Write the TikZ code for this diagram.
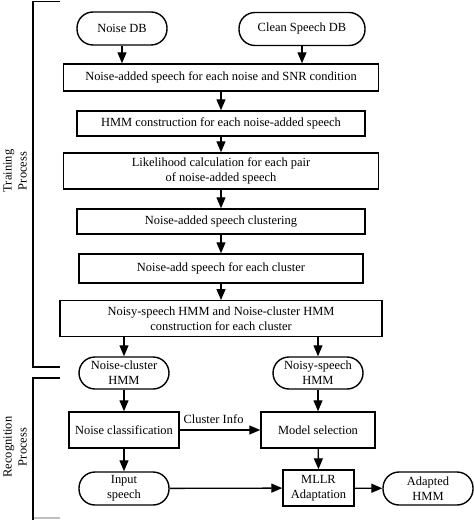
\documentclass[tikz,border=0pt]{standalone}
\usepackage{fontspec}
\setmainfont{Liberation Serif}
\usetikzlibrary{arrows.meta,positioning}
\begin{document}
\begin{tikzpicture}[x=1bp,y=-1bp,
  every node/.style={font=\fontsize{12.5}{15}\selectfont},
  box/.style={draw, line width=1.4bp, inner sep=0pt, align=center},
  term/.style={box, rounded corners=16bp, minimum width=90bp, minimum height=33bp},
  arr/.style={-{Triangle[length=11bp,width=9bp]}, line width=1.3bp},
  brk/.style={line width=1.5bp}]
\useasboundingbox (0,0) rectangle (474,520);
% nodes
\node[term] (ndb) at (122,28.5) {Noise DB};
\node[term, minimum width=126bp] (cdb) at (302,29) {Clean Speech DB};
\node[box, minimum width=315bp, minimum height=27bp] (b1) at (221,77.5) {Noise-added speech for each noise and SNR condition};
\node[box, minimum width=288bp, minimum height=25bp] (b2) at (221,123.5) {HMM construction for each noise-added speech};
\node[box, minimum width=315bp, minimum height=36bp] (b3) at (221,171) {Likelihood calculation for each pair\\of noise-added speech};
\node[box, minimum width=288bp, minimum height=25bp] (b4) at (221,221.5) {Noise-added speech clustering};
\node[box, minimum width=284bp, minimum height=29bp] (b5) at (221,268.5) {Noise-add speech for each cluster};
\node[box, minimum width=322bp, minimum height=36bp] (b6) at (221,318.7) {Noisy-speech HMM and Noise-cluster HMM\\construction for each cluster};
\node[term, minimum height=32bp] (nc) at (124,373) {Noise-cluster\\HMM};
\node[term, minimum height=32bp] (ns) at (318,373) {Noisy-speech\\HMM};
\node[box, minimum width=110bp, minimum height=36bp] (ncl) at (124,430) {Noise classification};
\node[box, minimum width=114bp, minimum height=36bp] (ms) at (318,430) {Model selection};
\node[term] (is) at (124,488.5) {Input\\speech};
\node[box, minimum width=71bp, minimum height=36bp] (ml) at (318.5,488) {MLLR\\Adaptation};
\node[term] (ah) at (428,488.5) {Adapted\\HMM};
% connectors
\draw[arr] (ndb) -- (ndb |- b1.north);
\draw[arr] (cdb) -- (cdb |- b1.north);
\draw[arr] (b1) -- (b2);
\draw[arr] (b2) -- (b3);
\draw[arr] (b3) -- (b4);
\draw[arr] (b4) -- (b5);
\draw[arr] (b5) -- (b6);
\draw[arr] (nc |- b6.south) -- (nc);
\draw[arr] (ns |- b6.south) -- (ns);
\draw[arr] (nc) -- (ncl);
\draw[arr] (ns) -- (ms);
\draw[arr] (ncl) -- node[above=2bp, pos=0.42] (ci) {Cluster Info} (ms);
\draw[arr] (ncl) -- (is);
\draw[arr] (ms) -- (ml.north);
\draw[arr] (is) -- (ml);
\draw[arr] (ml) -- (ah);
% brackets
\coordinate (t1) at (60,1.5);
\coordinate (t2) at (60,367);
\coordinate (r1) at (60,378);
\coordinate (r2) at (33,520);
\draw[brk] (t1) -- (33,1.5) -- (33,367) -- (t2);
\draw[brk] (r1) -- (33,378) -- (r2);
\draw[line width=1.5bp, black!25] (34,518) -- (60,518);
\node[rotate=90, align=center] (tp) at (15,171) {Training\\Process};
\node[rotate=90, align=center] (rp) at (15,447) {Recognition\\Process};
\end{tikzpicture}
\end{document}
